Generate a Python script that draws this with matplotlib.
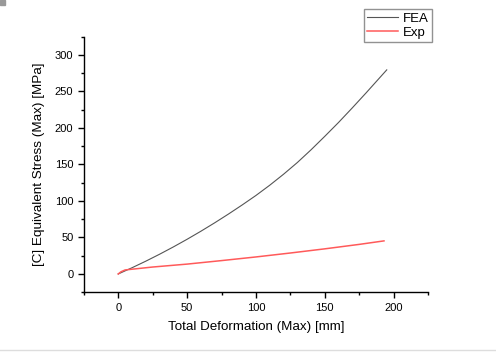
import matplotlib.pyplot as plt
from matplotlib.lines import Line2D
from matplotlib.patches import Rectangle
from matplotlib.ticker import MultipleLocator

plt.rcParams['font.family'] = ['Liberation Sans', 'DejaVu Sans']

# FEA simulation curve
fea_x = [0, 10, 20, 30, 40, 50, 60, 70, 80, 90, 100,
         110, 120, 130, 140, 150, 160, 170, 180, 190, 195]
fea_y = [0, 8.5, 17.5, 27, 37, 47.5, 58.5, 70, 82, 94.5, 107.5,
         121.5, 136.5, 152.5, 170, 188.5, 207.5, 227.5, 248, 269, 279.5]

# experimental curve
exp_x = [0, 2, 5, 10, 25, 50, 75, 100, 125, 150, 175, 193]
exp_y = [0, 3, 5.5, 6.5, 9.5, 13.5, 18.3, 23.3, 28.7, 34.4, 40.5, 45.3]

fig = plt.figure(figsize=(4.96, 3.63), dpi=100)
ax = fig.add_axes([0.169, 0.195, 0.694, 0.704])

ax.plot(fea_x, fea_y, color='#555555', lw=0.8, label='FEA')
ax.plot(exp_x, exp_y, color='#ff5a5a', lw=1.1, label='Exp')

ax.set_xlim(-25, 225)
ax.set_ylim(-25, 325)
ax.xaxis.set_major_locator(MultipleLocator(50))
ax.xaxis.set_minor_locator(MultipleLocator(25))
ax.yaxis.set_major_locator(MultipleLocator(50))
ax.yaxis.set_minor_locator(MultipleLocator(25))
ax.tick_params(which='major', direction='out', length=4, width=1, labelsize=8)
ax.tick_params(which='minor', direction='out', length=2.5, width=1)

for s in ['top', 'right']:
    ax.spines[s].set_visible(False)
for s in ['left', 'bottom']:
    ax.spines[s].set_linewidth(1.0)

ax.set_xlabel('Total Deformation (Max) [mm]', fontsize=9.6, labelpad=6)
ax.set_ylabel('[C] Equivalent Stress (Max) [MPa]', fontsize=9.7, labelpad=7)

leg = ax.legend(loc='upper right', bbox_to_anchor=(0.871, 0.975),
                bbox_transform=fig.transFigure, fontsize=9.5, frameon=True,
                fancybox=False, handlelength=2.3, handletextpad=0.4,
                borderpad=0.25, labelspacing=0.15, borderaxespad=0)
leg.get_frame().set_edgecolor('#777777')
leg.get_frame().set_linewidth(1.0)

# separator line and corner mark from the screenshot
fig.add_artist(Line2D([0, 1], [0.036, 0.036], transform=fig.transFigure,
                      color='#dddddd', lw=1))
fig.add_artist(Rectangle((0, 0.985), 0.01, 0.015, transform=fig.transFigure,
                         color='#999999'))

plt.savefig('out.png', dpi=100)
